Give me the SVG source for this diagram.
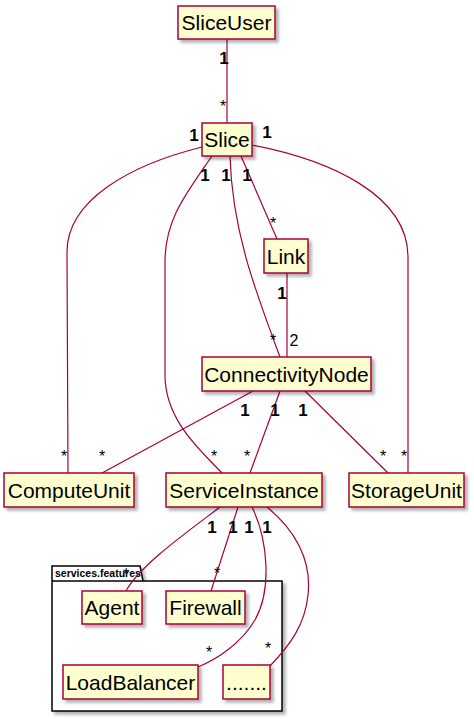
<svg xmlns="http://www.w3.org/2000/svg" width="474" height="719" viewBox="0 0 474 719">
<style>
.node rect{fill:#FEFECE;stroke:#A80036;stroke-width:1.5;filter:url(#sh)}
.node text{font-family:"Liberation Sans",Arial,sans-serif;font-size:21px;fill:#000;text-anchor:middle}
.edges path{fill:none;stroke:#A80036;stroke-width:1.2}
.one{font-family:"Liberation Sans",Arial,sans-serif;font-size:17px;font-weight:bold;fill:#000;text-anchor:middle}
.many{font-family:"Liberation Sans",Arial,sans-serif;font-size:16px;fill:#000;text-anchor:middle}
.pkg{fill:#FFFFFF;stroke:#000;stroke-width:1.5;filter:url(#sh)}
.pkgt{font-family:"Liberation Sans",Arial,sans-serif;font-size:10.5px;font-weight:bold;fill:#000}
</style>
<defs>
<filter id="sh" x="-20%" y="-20%" width="150%" height="150%">
<feGaussianBlur in="SourceAlpha" stdDeviation="1.5"/>
<feOffset dx="3" dy="3" result="b"/>
<feFlood flood-color="#000" flood-opacity="0.3"/>
<feComposite in2="b" operator="in"/>
<feMerge><feMergeNode/><feMergeNode in="SourceGraphic"/></feMerge>
</filter>
</defs>
<rect width="474" height="719" fill="#FFFFFF"/>
<g id="pkg-services-features">
<path class="pkg" d="M52,581 L52,566 L140,566 L143,581 L282,581 L282,711 L52,711 Z"/>
<path d="M52,581 L143,581" stroke="#000" stroke-width="1.5" fill="none"/>
<text class="pkgt" x="55" y="577">services.features</text>
</g>
<g class="edges" id="connectors">
<path d="M227,39 L227,123"/>
<path d="M202,147 C130,165 67,200 67,252 L68,473"/>
<path d="M212,156 C185,195 165,220 165,262 L165,375 C165,420 200,450 222,473"/>
<path d="M230,156 C232,230 255,290 280,357"/>
<path d="M241,156 L277,239"/>
<path d="M252,145 C330,160 408,195 408,257 L408,473"/>
<path d="M287,273 L287,357"/>
<path d="M253,391 L102,473"/>
<path d="M280,391 L250,473"/>
<path d="M305,391 L388,473"/>
<path d="M220,507 C190,530 140,565 126,591"/>
<path d="M238,507 L211,591"/>
<path d="M252,507 C268,540 272,590 255,620 C240,645 215,660 198,667"/>
<path d="M267,507 C295,530 312,560 308,595 C305,625 290,645 270,666"/>
</g>
<g id="labels">
<text class="one" x="224" y="64">1</text>
<text class="many" x="223" y="112">*</text>
<text class="one" x="194" y="141">1</text>
<text class="one" x="267" y="138">1</text>
<text class="one" x="205" y="181">1</text>
<text class="one" x="226" y="181">1</text>
<text class="one" x="247" y="181">1</text>
<text class="many" x="273" y="229">*</text>
<text class="one" x="282" y="299">1</text>
<text class="many" x="273" y="346">*</text>
<text class="many" x="294" y="346">2</text>
<text class="one" x="245" y="416">1</text>
<text class="one" x="275" y="416">1</text>
<text class="one" x="303" y="416">1</text>
<text class="many" x="64" y="462">*</text>
<text class="many" x="102" y="462">*</text>
<text class="many" x="214" y="462">*</text>
<text class="many" x="247" y="462">*</text>
<text class="many" x="383" y="462">*</text>
<text class="many" x="404" y="462">*</text>
<text class="one" x="212" y="533">1</text>
<text class="one" x="233" y="533">1</text>
<text class="one" x="249" y="533">1</text>
<text class="one" x="267" y="533">1</text>
<text class="many" x="126" y="580">*</text>
<text class="many" x="217" y="579">*</text>
<text class="many" x="209" y="658">*</text>
<text class="many" x="268" y="654">*</text>
</g>
<g class="node" id="SliceUser"><rect x="178" y="6" width="97" height="33"/><text x="226.5" y="30">SliceUser</text></g>
<g class="node" id="Slice"><rect x="202" y="123" width="50" height="33"/><text x="227" y="147">Slice</text></g>
<g class="node" id="Link"><rect x="264" y="239" width="44" height="34"/><text x="286" y="263.5">Link</text></g>
<g class="node" id="ConnectivityNode"><rect x="202" y="357" width="169" height="34"/><text x="286.5" y="381.5">ConnectivityNode</text></g>
<g class="node" id="ComputeUnit"><rect x="4" y="473" width="130" height="34"/><text x="69" y="497.5">ComputeUnit</text></g>
<g class="node" id="ServiceInstance"><rect x="166" y="473" width="156" height="34"/><text x="244" y="497.5">ServiceInstance</text></g>
<g class="node" id="StorageUnit"><rect x="349" y="473" width="115" height="34"/><text x="406.5" y="497.5">StorageUnit</text></g>
<g class="node" id="Agent"><rect x="82" y="591" width="60" height="33"/><text x="112" y="615">Agent</text></g>
<g class="node" id="Firewall"><rect x="166" y="591" width="79" height="33"/><text x="205.5" y="615">Firewall</text></g>
<g class="node" id="LoadBalancer"><rect x="63" y="665" width="135" height="34"/><text x="130.5" y="689.5">LoadBalancer</text></g>
<g class="node" id="More"><rect x="223" y="665" width="47" height="34"/><text x="246.5" y="689.5">.......</text></g>
</svg>
